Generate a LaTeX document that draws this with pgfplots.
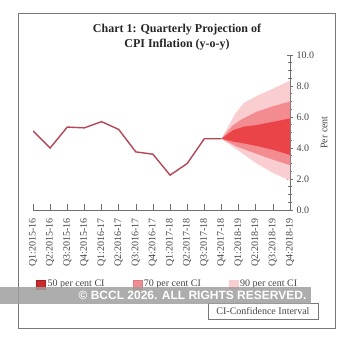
\documentclass[border=0pt]{standalone}
\usepackage{fontspec}
\setmainfont{Liberation Serif}
\newfontfamily\wmfont{Liberation Sans}
\usepackage{pgfplots}
\pgfplotsset{compat=1.18}
\definecolor{cfifty}{RGB}{234,68,72}
\definecolor{cfiftyleg}{RGB}{205,40,42}
\definecolor{cseventy}{RGB}{242,140,145}
\definecolor{cninety}{RGB}{250,205,208}
\definecolor{linecol}{RGB}{180,70,85}
\definecolor{axisgray}{RGB}{110,110,110}
\definecolor{labelgray}{RGB}{70,70,70}
\definecolor{framegray}{RGB}{120,120,120}
\begin{document}
\begin{tikzpicture}
\useasboundingbox (0pt,0pt) rectangle (345pt,-346pt);
\fill[white] (0pt,0pt) rectangle (345pt,-346pt);
\draw[framegray, line width=0.8pt] (18pt,-13pt) rectangle (335pt,-328pt);
\node[font=\bfseries\fontsize{12}{15}\selectfont, align=center, text=black!85] at (177pt,-37.5pt) {Chart 1: Quarterly Projection of\\CPI Inflation (y-o-y)};
\begin{axis}[
 at={(33pt,-210pt)}, anchor=south west,
 width=257pt, height=155pt, scale only axis,
 xmin=0, xmax=15, ymin=0, ymax=10,
 axis x line*=bottom, axis y line*=right,
 axis line style={draw=axisgray, line width=0.6pt},
 xtick={0,...,15},
 xticklabels={Q1:2015-16,Q2:2015-16,Q3:2015-16,Q4:2015-16,Q1:2016-17,Q2:2016-17,Q3:2016-17,Q4:2016-17,Q1:2017-18,Q2:2017-18,Q3:2017-18,Q4:2017-18,Q1:2018-19,Q2:2018-19,Q3:2018-19,Q4:2018-19},
 xticklabel style={rotate=90, anchor=east, font=\fontsize{10}{12}\selectfont, text=labelgray},
 xticklabel shift=5pt,
 xtick align=inside,
 ytick={0,2,...,10},
 minor y tick num=3,
 ytick align=center,
 major tick length=6pt, minor tick length=4pt,
 tick style={draw=axisgray, line width=0.6pt},
 yticklabel style={font=\fontsize{10}{12}\selectfont, text=labelgray, /pgf/number format/.cd, fixed, fixed zerofill, precision=1, assume math mode=true},
 ylabel={Per cent}, ylabel style={font=\fontsize{10}{12}\selectfont, text=labelgray},
 legend columns=3,
 legend style={at={(0.0,-0.48)}, anchor=west, draw=none, fill=none, font=\fontsize{10}{12}\selectfont, text=labelgray, /tikz/every even column/.append style={column sep=26pt}},
 legend image code/.code={\draw[#1] (0pt,-4.5pt) rectangle (9pt,4.5pt);},
]
\addlegendimage{fill=cfiftyleg, draw=cfiftyleg!80!black}
\addlegendentry{50 per cent CI}
\addlegendimage{fill=cseventy, draw=cseventy!90!black}
\addlegendentry{70 per cent CI}
\addlegendimage{fill=cninety, draw=cninety}
\addlegendentry{90 per cent CI}
% 90 per cent band
\addplot[fill=cninety, draw=none, forget plot] coordinates {
 (11,4.6) (11.5,5.6) (11.8,6.2) (12.3,6.9) (13.05,7.35) (14.05,7.85) (15,8.35)
 (15,1.9) (14.05,2.37) (13.05,3.0) (11.9,3.9) (11,4.6)} -- cycle;
% 70 per cent band
\addplot[fill=cseventy, draw=none, forget plot] coordinates {
 (11,4.6) (11.6,5.4) (12.1,5.8) (13.05,6.34) (14.05,6.71) (15,7.0)
 (15,2.9) (14.05,3.23) (12.7,3.76) (11.9,4.09) (11,4.6)} -- cycle;
% 50 per cent band
\addplot[fill=cfifty, draw=none, forget plot] coordinates {
 (11,4.6) (11.7,5.16) (12.3,5.38) (13.05,5.48) (14.05,5.7) (15,5.91)
 (15,3.55) (14.05,3.87) (13.05,4.13) (12.3,4.30) (11.7,4.41) (11,4.6)} -- cycle;
% actual CPI inflation
\addplot[linecol, line width=1.4pt, forget plot] coordinates {
 (0,5.1) (1,4.0) (2,5.35) (3,5.3) (4,5.7) (5,5.2) (6,3.75) (7,3.6) (8,2.25) (9,3.0) (10,4.6) (11,4.6)};
\end{axis}
\node[draw=framegray, line width=0.6pt, minimum width=110pt, minimum height=16pt, inner sep=0pt, font=\fontsize{10}{12}\selectfont, text=labelgray] at (263pt,-311pt) {CI-Confidence Interval};
\fill[gray!75, opacity=0.85] (0pt,-287pt) rectangle (311pt,-304pt);
\node[font=\wmfont\bfseries\fontsize{12}{14}\selectfont, text=white] at (192.5pt,-295.5pt) {© BCCL 2026. ALL RIGHTS RESERVED.};
\end{tikzpicture}
\end{document}
